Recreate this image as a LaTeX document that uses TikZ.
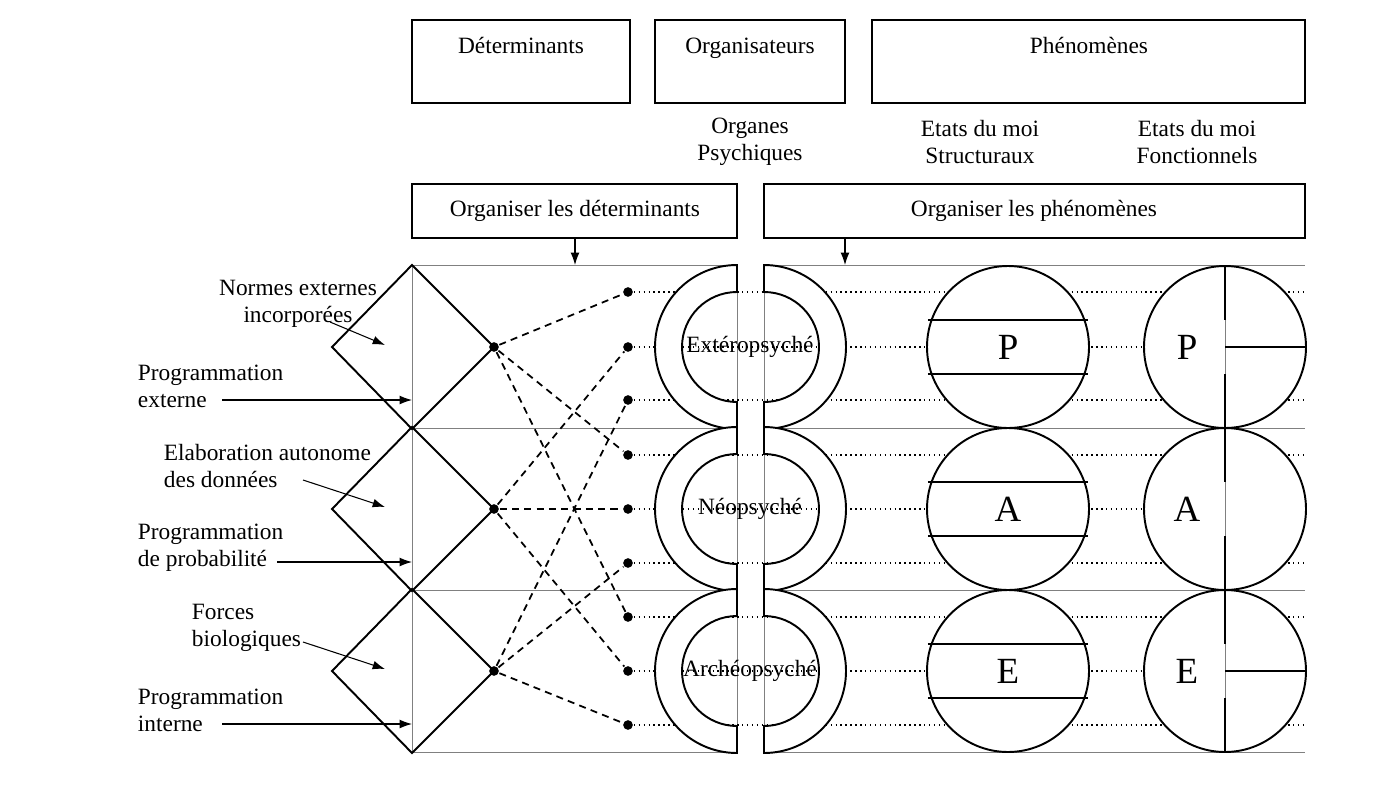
\documentclass[tikz,border=0pt]{standalone}
\usepackage{fontspec}
\setmainfont{Liberation Serif}
\usetikzlibrary{arrows.meta}
\begin{document}
\begin{tikzpicture}[x=0.02cm,y=-0.02cm,line width=1.1pt,
	box/.style={draw,line width=1pt},
	lbl/.style={font=\fontsize{13.3}{15.4}\selectfont,align=center,inner sep=0pt},
	one/.style={lbl,text height=9pt,text depth=2.5pt},
	big/.style={font=\fontsize{21}{23}\selectfont,inner sep=0pt},
	dot/.style={circle,fill,inner sep=0pt,minimum size=5.5pt},
	grid/.style={gray,line width=0.5pt},
	link/.style={dashed,line width=1pt,dash pattern=on 4pt off 3pt},
	lead/.style={-{Latex[length=7pt,width=5pt]},line width=0.6pt}]
	
	\useasboundingbox (0,0) rectangle (1390,788);
	
	\def\ro{82}
	\def\ri{55}
	\def\rc{81}
	
	% The heading boxes
	\draw [box] (412,20) rectangle (630,103);
	\node [one] at (521,48) {Déterminants};
	\draw [box] (655,20) rectangle (845,103);
	\node [one] at (750,48) {Organisateurs};
	\draw [box] (872,20) rectangle (1305,103);
	\node [one] at (1089,48) {Phénomènes};
	\node [lbl] at (750,142) {Organes\\Psychiques};
	\node [lbl] at (980,142) {Etats du moi\\Structuraux};
	\node [lbl] at (1197,142) {Etats du moi\\Fonctionnels};
	\draw [box] (412,184) rectangle (737,238);
	\node [one] at (575,211) {Organiser les déterminants};
	\draw [box] (764,184) rectangle (1305,238);
	\node [one] at (1034,211) {Organiser les phénomènes};
	\draw [lead] (575,238) -- (575,265);
	\draw [lead] (845,238) -- (845,265);
	
	% The grid behind
	\foreach \y in {265,428,590,752}{
		\draw [grid] (412,\y) -- (737,\y);
		\draw [grid] (764,\y) -- (1305,\y);
	}
	\foreach \x in {412,737,764}{
		\draw [grid] (\x,265) -- (\x,752);
	}
	
	% The dotted lines and the dots
	\foreach \i/\y in {1/292,2/347,3/400,4/455,5/509,6/563,7/617,8/671,9/725}{
		\node [dot] (r\i) at (628,\y) {};
		\draw [dotted,line width=0.8pt] (r\i) -- (1305,\y);
	}
	
	% The rows
	\foreach \i/\yc/\name/\letter in {1/347/Extéropsyché/P,2/509/Néopsyché/A,3/671/Archéopsyché/E}{
		% Diamond
		\draw (332,\yc) -- (412,\yc-82) -- (494,\yc) -- (412,\yc+82) -- cycle;
		\node [dot] (d\i) at (494,\yc) {};
		% Organ
		\filldraw [fill=white] (737,\yc-\ro) arc [start angle=-90,end angle=-270,radius=\ro]
			-- (737,\yc+\ri) arc [start angle=-270,end angle=-90,radius=\ri] -- cycle;
		\filldraw [fill=white] (764,\yc-\ro) arc [start angle=-90,end angle=90,radius=\ro]
			-- (764,\yc+\ri) arc [start angle=90,end angle=-90,radius=\ri] -- cycle;
		\node [one] at (750,\yc) {\name};
		% Structural state
		\filldraw [fill=white] (1008,\yc) circle (\rc);
		\draw (927.8,\yc-27) -- (1088.2,\yc-27);
		\draw (927.8,\yc+27) -- (1088.2,\yc+27);
		\node [big] at (1008,\yc) {\letter};
		% Functional state
		\filldraw [fill=white] (1225,\yc) circle (\rc);
		\draw (1225,\yc-\rc) -- (1225,\yc-27);
		\draw [grid] (1225,\yc-27) -- (1225,\yc+27);
		\draw (1225,\yc+27) -- (1225,\yc+\rc);
		\node [big] at (1187,\yc) {\letter};
	}
	\draw (1225,347) -- (1306,347);
	\draw (1225,671) -- (1306,671);
	
	% The links
	\foreach \i/\a/\b/\c in {1/1/4/7,2/2/5/8,3/3/6/9}{
		\draw [link] (d\i) -- (r\a);
		\draw [link] (d\i) -- (r\b);
		\draw [link] (d\i) -- (r\c);
	}
	
	% The inputs
	\node [lbl] (norm) at (298,304) {Normes externes\\incorporées};
	\node [lbl,align=left,anchor=west] (elab) at (163,466) {Elaboration autonome\\des données};
	\node [lbl,align=left,anchor=west] (bio) at (191,628) {Forces\\biologiques};
	\draw [lead] (330,322) -- (385,345);
	\draw [lead] (303,480) -- (385,507);
	\draw [lead] (303,642) -- (385,669);
	\node [lbl,align=left,anchor=west] (pext) at (137,386) {Programmation\\externe};
	\node [lbl,align=left,anchor=west] (pprob) at (137,548) {Programmation\\de probabilité};
	\node [lbl,align=left,anchor=west] (pint) at (137,710) {Programmation\\interne};
	\draw [lead] (222,400) -- (412,400);
	\draw [lead] (277,562) -- (412,562);
	\draw [lead] (222,724) -- (412,724);
	
\end{tikzpicture}
\end{document}
